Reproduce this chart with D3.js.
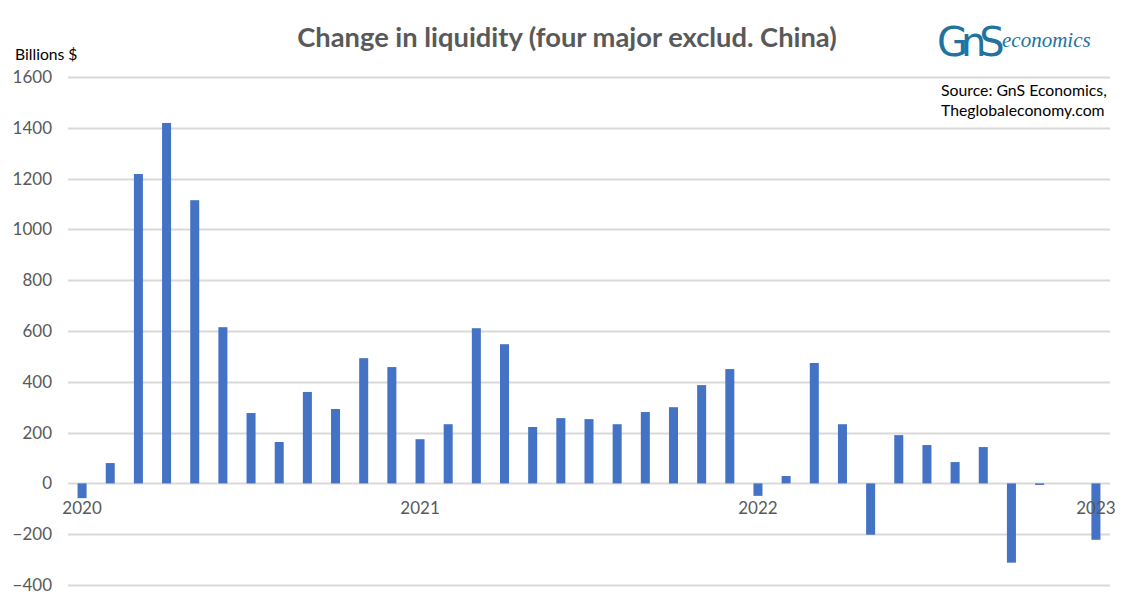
<!DOCTYPE html>
<html>
<head>
<meta charset="utf-8">
<script src="https://cdn.jsdelivr.net/npm/d3@7"></script>
<style>
  html, body { margin: 0; padding: 0; background: #fff; }
  svg { display: block; }
</style>
</head>
<body>
<svg id="chart" width="1138" height="608"></svg>
<script>
// ---- Data ----
const months = [
  "2020-01","2020-02","2020-03","2020-04","2020-05","2020-06","2020-07","2020-08","2020-09","2020-10","2020-11","2020-12",
  "2021-01","2021-02","2021-03","2021-04","2021-05","2021-06","2021-07","2021-08","2021-09","2021-10","2021-11","2021-12",
  "2022-01","2022-02","2022-03","2022-04","2022-05","2022-06","2022-07","2022-08","2022-09","2022-10","2022-11","2022-12",
  "2023-01"
];
const liquidityChange = [
  -58, 80, 1218, 1419, 1115, 615, 277, 163, 360, 293, 493, 458,
  174, 233, 611, 548, 222, 257, 253, 233, 281, 300, 387, 450,
  -49, 29, 474, 233, -202, 190, 151, 84, 143, -312, -6, 0,
  -222
];
const yTicks = [-400, -200, 0, 200, 400, 600, 800, 1000, 1200, 1400, 1600];
const yearLabels = {"2020-01": "2020", "2021-01": "2021", "2022-01": "2022", "2023-01": "2023"};

const titleText = "Change in liquidity (four major exclud. China)";
const unitText = "Billions $";
const sourceLines = ["Source: GnS Economics,", "Theglobaleconomy.com"];

// ---- Layout ----
const svg = d3.select("#chart");
const plot = {left: 68, right: 1110, top: 77, bottom: 585};

const x = d3.scaleBand()
  .domain(months)
  .range([plot.left, plot.right])
  .paddingInner(0.68)
  .paddingOuter(0.34);

const y = d3.scaleLinear()
  .domain([-400, 1600])
  .range([plot.bottom, plot.top]);

const font = "Lato, 'Open Sans', sans-serif";

// gridlines
svg.append("g")
  .selectAll("line")
  .data(yTicks)
  .join("line")
  .attr("x1", plot.left)
  .attr("x2", plot.right)
  .attr("y1", d => Math.round(y(d)) + 0.5)
  .attr("y2", d => Math.round(y(d)) + 0.5)
  .attr("stroke", "#d9d9d9")
  .attr("stroke-width", 2);

// y axis (labels only)
const yAxis = d3.axisLeft(y).tickValues(yTicks).tickFormat(d3.format("d")).tickSize(0).tickPadding(0);
const yg = svg.append("g")
  .attr("transform", `translate(52,0)`)
  .call(yAxis);
yg.select(".domain").remove();
yg.selectAll("text")
  .attr("font-family", font)
  .attr("font-size", 17)
  .attr("fill", "#595959");

// bars
svg.append("g")
  .selectAll("rect")
  .data(months.map((m, i) => ({m, v: liquidityChange[i]})))
  .join("rect")
  .attr("x", d => x(d.m))
  .attr("width", x.bandwidth())
  .attr("y", d => y(Math.max(0, d.v)))
  .attr("height", d => Math.abs(y(d.v) - y(0)))
  .attr("fill", "#4472c4");

// x axis (year labels at zero line)
const xAxis = d3.axisBottom(x)
  .tickValues(Object.keys(yearLabels))
  .tickFormat(d => yearLabels[d])
  .tickSize(0)
  .tickPadding(0);
const xg = svg.append("g")
  .attr("transform", `translate(0,${y(0) + 19})`)
  .call(xAxis);
xg.select(".domain").remove();
xg.selectAll("text")
  .attr("font-family", font)
  .attr("font-size", 17)
  .attr("fill", "#595959");

// title
svg.append("text")
  .attr("x", 567)
  .attr("y", 47)
  .attr("text-anchor", "middle")
  .attr("font-family", font)
  .attr("font-weight", "bold")
  .attr("font-size", 27.3)
  .attr("fill", "#595959")
  .text(titleText);

// unit label
svg.append("text")
  .attr("x", 15)
  .attr("y", 60)
  .attr("font-family", font)
  .attr("font-size", 15.7)
  .attr("fill", "#000")
  .text(unitText);

// logo
const logo = svg.append("g").attr("transform", "translate(937,0)");
logo.append("text")
  .attr("x", 0)
  .attr("y", 56)
  .attr("font-family", "'DejaVu Sans', sans-serif")
  .attr("font-size", 40)
  .attr("letter-spacing", -7)
  .attr("fill", "#2272a0")
  .text("GnS");
logo.append("text")
  .attr("x", 65)
  .attr("y", 47)
  .attr("font-family", "'Liberation Serif', serif")
  .attr("font-style", "italic")
  .attr("font-size", 21)
  .attr("fill", "#2272a0")
  .text("economics");

// source
svg.append("g")
  .selectAll("text")
  .data(sourceLines)
  .join("text")
  .attr("x", 941)
  .attr("y", (d, i) => 96 + i * 20)
  .attr("font-family", font)
  .attr("font-size", 15.8)
  .attr("fill", "#000")
  .text(d => d);
</script>
</body>
</html>
